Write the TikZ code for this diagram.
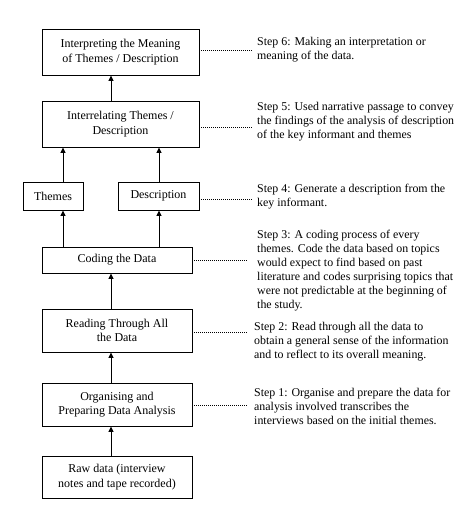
\documentclass[tikz,border=0pt]{standalone}
\usepackage{fontspec}
\setmainfont{Liberation Serif}
\usetikzlibrary{arrows.meta}
\begin{document}
\begin{tikzpicture}[x=1pt,y=-1pt,
  box/.style={draw,line width=0.9pt,inner sep=0pt,align=center,font=\fontsize{12}{14.5}\selectfont},
  note/.style={inner sep=0pt,anchor=west,align=left,font=\fontsize{11.9}{13.9}\selectfont},
  arr/.style={line width=0.9pt,-{Triangle[length=5.5pt,width=5pt]}},
  dot/.style={line width=0.7pt,dash pattern=on 1pt off 1pt}]
\useasboundingbox (0,0) rectangle (474,528);
\fill[white] (0,0) rectangle (474,528);
% boxes
\node[box,minimum width=157pt,minimum height=46pt] (b6) at (120.5,52) {Interpreting the Meaning\\of Themes / Description};
\node[box,minimum width=157pt,minimum height=46pt] (b5) at (120.5,124) {Interrelating Themes /\\Description};
\node[box,minimum width=60pt,minimum height=28pt] (th) at (53,196) {Themes};
\node[box,minimum width=81pt,minimum height=28pt] (de) at (158.5,196) {Description};
\node[box,minimum width=150pt,minimum height=26pt] (b3) at (117,260) {Coding the Data};
\node[box,minimum width=150pt,minimum height=43pt] (b2) at (117,330.5) {Reading Through All\\the Data};
\node[box,minimum width=150pt,minimum height=43pt] (b1) at (117,404.5) {Organising and\\Preparing Data Analysis};
\node[box,minimum width=150pt,minimum height=42pt] (raw) at (117,477) {Raw data (interview\\notes and tape recorded)};
% arrow columns
\coordinate (ax) at (111,0);
\coordinate (tx) at (63,0);
\coordinate (dx) at (159,0);
\draw[arr] (b5.north -| ax) -- (b6.south -| ax);
\draw[arr] (th.north -| tx) -- (b5.south -| tx);
\draw[arr] (de.north -| dx) -- (b5.south -| dx);
\draw[arr] (b3.north -| tx) -- (th.south -| tx);
\draw[arr] (b3.north -| dx) -- (de.south -| dx);
\draw[arr] (b2.north -| ax) -- (b3.south -| ax);
\draw[arr] (b1.north -| ax) -- (b2.south -| ax);
\draw[arr] (raw.north -| ax) -- (b1.south -| ax);
% notes
\node[note] (s6) at (257,50) {Step 6: Making an interpretation or\\meaning of the data.};
\node[note] (s5) at (257,122) {Step 5: Used narrative passage to convey\\the findings of the analysis of description\\of the key informant and themes};
\node[note] (s4) at (257,197) {Step 4: Generate a description from the\\key informant.};
\node[note] (s3) at (257,270.5) {Step 3: A coding process of every\\themes. Code the data based on topics\\would expect to find based on past\\literature and codes surprising topics that\\were not predictable at the beginning of\\the study.};
\node[note] (s2) at (254,342) {Step 2: Read through all the data to\\obtain a general sense of the information\\and to reflect to its overall meaning.};
\node[note] (s1) at (254,406.5) {Step 1: Organise and prepare the data for\\analysis involved transcribes the\\interviews based on the initial themes.};
% dotted connectors
\coordinate (d6) at (253,50);
\coordinate (d5) at (253,127);
\coordinate (d4) at (253,199);
\coordinate (d3) at (247,260);
\coordinate (d2) at (248,332);
\coordinate (d1) at (248,405);
\draw[dot] (b6.east |- d6) -- (d6);
\draw[dot] (b5.east |- d5) -- (d5);
\draw[dot] (de.east |- d4) -- (d4);
\draw[dot] (b3.east |- d3) -- (d3);
\draw[dot] (b2.east |- d2) -- (d2);
\draw[dot] (b1.east |- d1) -- (d1);
\end{tikzpicture}
\end{document}
